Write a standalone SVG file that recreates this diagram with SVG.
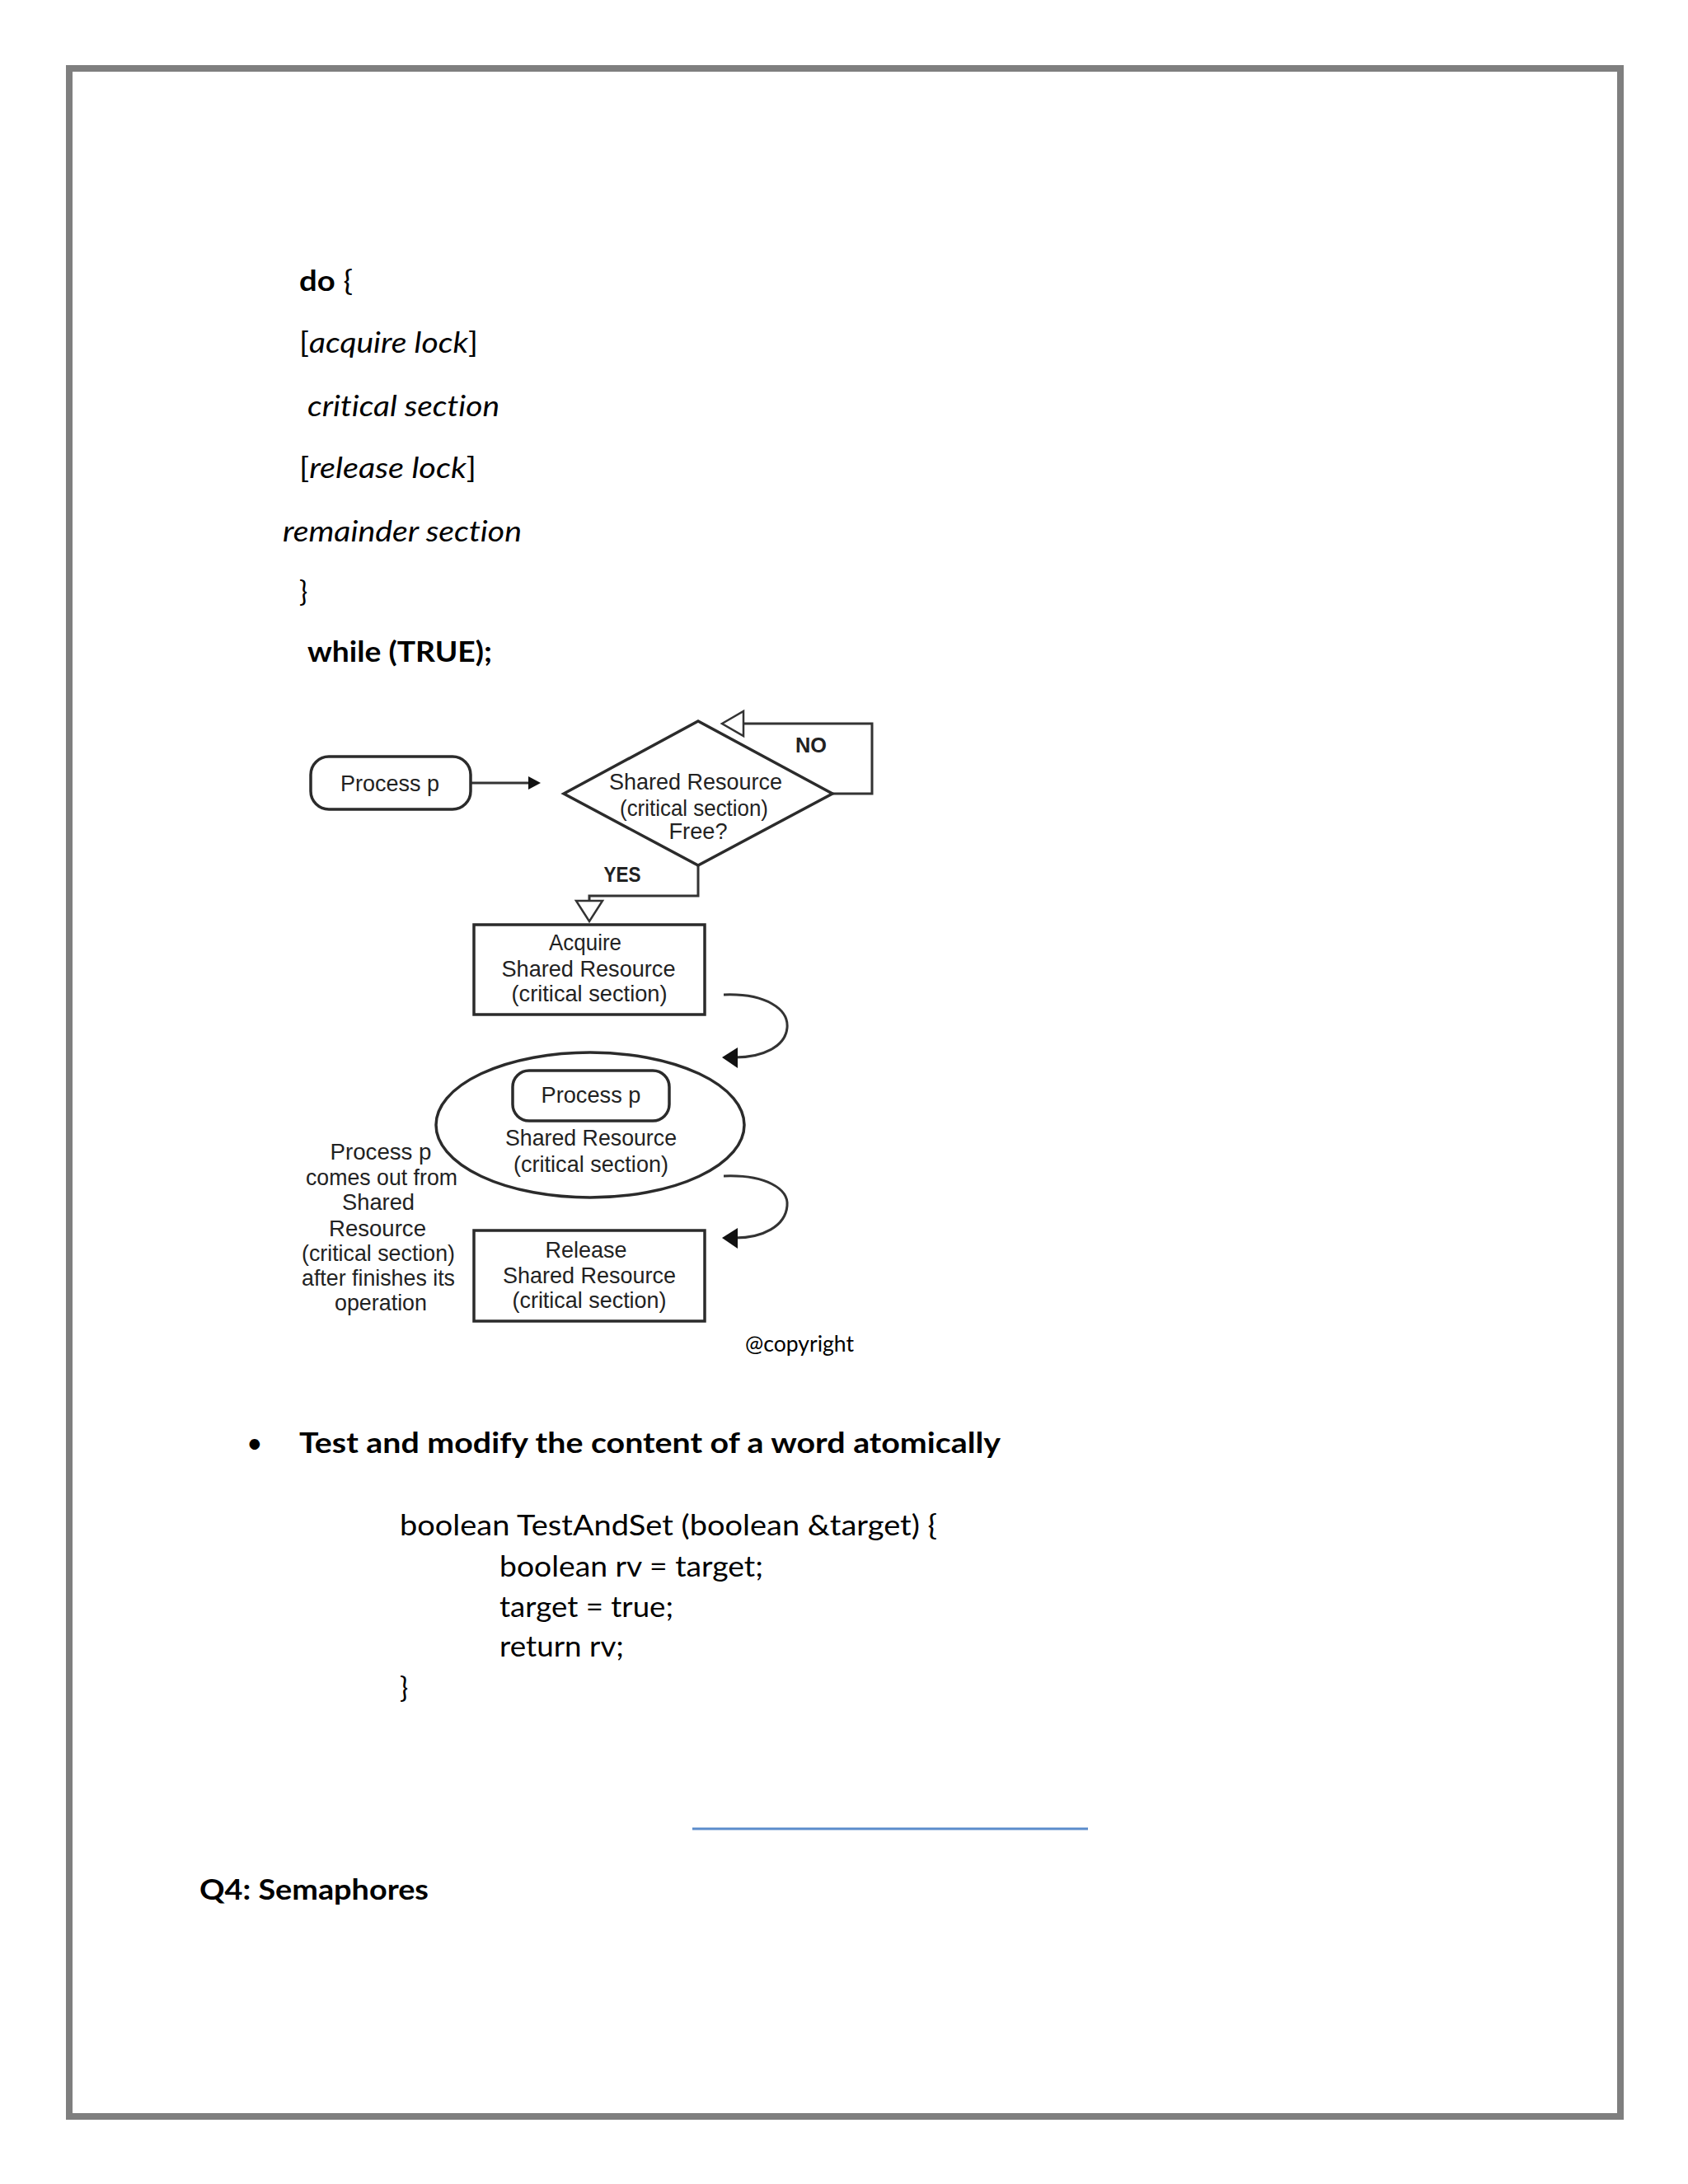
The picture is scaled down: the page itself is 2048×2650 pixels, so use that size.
<svg xmlns="http://www.w3.org/2000/svg" width="2048" height="2650" viewBox="0 0 2048 2650">
<style>
text{font-variant-ligatures:none}
.doc{font-family:Lato,"Open Sans","Liberation Sans",sans-serif;font-size:34px;fill:#000}
.b{font-weight:bold}
.i{font-style:italic}
.fc{font-family:"Liberation Sans",Arial,sans-serif;font-size:28px;fill:#222;text-anchor:middle}
.fcb{font-family:"Liberation Sans",Arial,sans-serif;font-size:25px;font-weight:bold;fill:#222;text-anchor:middle}
.shape{fill:#fff;stroke:#2b2b2b;stroke-width:3.5}
.line{fill:none;stroke:#333;stroke-width:3}
.hollow{fill:#fff;stroke:#333;stroke-width:2.5}
.solid{fill:#111;stroke:none}
</style>
<rect width="2048" height="2650" fill="#fff"/>
<rect id="frame" x="84" y="83" width="1882" height="2485" fill="none" stroke="#7f7f7f" stroke-width="8"/>

<g id="code-loop">
<text class="doc" x="363" y="353" textLength="65" lengthAdjust="spacingAndGlyphs"><tspan class="b">do</tspan> {</text>
<text class="doc" x="363" y="428" textLength="217" lengthAdjust="spacingAndGlyphs">[<tspan class="i">acquire lock</tspan>]</text>
<text class="doc i" x="373" y="505" textLength="233" lengthAdjust="spacingAndGlyphs">critical section</text>
<text class="doc" x="363" y="580" textLength="215" lengthAdjust="spacingAndGlyphs">[<tspan class="i">release lock</tspan>]</text>
<text class="doc i" x="343" y="657" textLength="290" lengthAdjust="spacingAndGlyphs">remainder section</text>
<text class="doc" x="363" y="730">}</text>
<text class="doc b" x="373" y="803" textLength="224" lengthAdjust="spacingAndGlyphs">while (TRUE);</text>
</g>

<g id="connectors">
<line class="line" x1="571" y1="950" x2="643" y2="950"/>
<polygon class="solid" points="656,950 641,942 641,958"/>
<polyline class="line" points="1010,963 1058,963 1058,878 902,878"/>
<polygon class="hollow" points="876,878 902,863 902,893"/>
<polyline class="line" points="847,1050 847,1087 715,1087 715,1093"/>
<polygon class="hollow" points="699,1093 731,1093 715,1118"/>
<path class="line" d="M878,1207 C930,1205 957,1225 955,1247 C953,1270 925,1283 892,1283"/>
<polygon class="solid" points="876,1283 895,1271 895,1296"/>
<path class="line" d="M878,1427 C930,1425 957,1443 955,1463 C953,1488 925,1502 892,1502"/>
<polygon class="solid" points="876,1502 895,1490 895,1515"/>
</g>

<g id="node-process-p">
<rect class="shape" x="377" y="918" width="194" height="64" rx="22"/>
<text class="fc" x="473" y="960" textLength="120" lengthAdjust="spacingAndGlyphs">Process p</text>
</g>

<g id="node-decision">
<polygon class="shape" points="684,963 847,875 1010,963 847,1050"/>
<text class="fc" x="844" y="958" textLength="210" lengthAdjust="spacingAndGlyphs">Shared Resource</text>
<text class="fc" x="842" y="990" textLength="180" lengthAdjust="spacingAndGlyphs">(critical section)</text>
<text class="fc" x="847" y="1018" textLength="71" lengthAdjust="spacingAndGlyphs">Free?</text>
</g>

<g id="label-no"><text class="fcb" x="984" y="913" textLength="38" lengthAdjust="spacingAndGlyphs">NO</text></g>
<g id="label-yes"><text class="fcb" x="755" y="1070" textLength="45" lengthAdjust="spacingAndGlyphs">YES</text></g>

<g id="node-acquire">
<rect class="shape" x="575" y="1122" width="280" height="109"/>
<text class="fc" x="710" y="1153" textLength="88" lengthAdjust="spacingAndGlyphs">Acquire</text>
<text class="fc" x="714" y="1185" textLength="211" lengthAdjust="spacingAndGlyphs">Shared Resource</text>
<text class="fc" x="715" y="1215" textLength="189" lengthAdjust="spacingAndGlyphs">(critical section)</text>
</g>

<g id="node-shared-resource">
<ellipse class="shape" cx="716" cy="1365" rx="187" ry="88"/>
<rect class="shape" x="622" y="1299" width="190" height="61" rx="20"/>
<text class="fc" x="717" y="1338" textLength="121" lengthAdjust="spacingAndGlyphs">Process p</text>
<text class="fc" x="717" y="1390" textLength="208" lengthAdjust="spacingAndGlyphs">Shared Resource</text>
<text class="fc" x="717" y="1422" textLength="188" lengthAdjust="spacingAndGlyphs">(critical section)</text>
</g>

<g id="node-release">
<rect class="shape" x="575" y="1493" width="280" height="110"/>
<text class="fc" x="711" y="1526" textLength="99" lengthAdjust="spacingAndGlyphs">Release</text>
<text class="fc" x="715" y="1557" textLength="210" lengthAdjust="spacingAndGlyphs">Shared Resource</text>
<text class="fc" x="715" y="1587" textLength="187" lengthAdjust="spacingAndGlyphs">(critical section)</text>
</g>

<g id="annotation">
<text class="fc" x="462" y="1407" textLength="123" lengthAdjust="spacingAndGlyphs">Process p</text>
<text class="fc" x="463" y="1438" textLength="184" lengthAdjust="spacingAndGlyphs">comes out from</text>
<text class="fc" x="459" y="1468" textLength="88" lengthAdjust="spacingAndGlyphs">Shared</text>
<text class="fc" x="458" y="1500" textLength="118" lengthAdjust="spacingAndGlyphs">Resource</text>
<text class="fc" x="459" y="1530" textLength="186" lengthAdjust="spacingAndGlyphs">(critical section)</text>
<text class="fc" x="459" y="1560" textLength="186" lengthAdjust="spacingAndGlyphs">after finishes its</text>
<text class="fc" x="462" y="1590" textLength="112" lengthAdjust="spacingAndGlyphs">operation</text>
</g>

<g id="copyright">
<text class="doc" x="904" y="1640" style="font-size:26px" textLength="132" lengthAdjust="spacingAndGlyphs">@copyright</text>
</g>

<g id="test-and-set">
<text class="doc" x="299" y="1763">•</text>
<text class="doc b" x="363" y="1763" textLength="851" lengthAdjust="spacingAndGlyphs">Test and modify the content of a word atomically</text>
<text class="doc" x="485" y="1863" textLength="652" lengthAdjust="spacingAndGlyphs">boolean TestAndSet (boolean &amp;target) {</text>
<text class="doc" x="606" y="1913" textLength="320" lengthAdjust="spacingAndGlyphs">boolean rv = target;</text>
<text class="doc" x="606" y="1962" textLength="211" lengthAdjust="spacingAndGlyphs">target = true;</text>
<text class="doc" x="606" y="2010" textLength="151" lengthAdjust="spacingAndGlyphs">return rv;</text>
<text class="doc" x="485" y="2060">}</text>
</g>

<line id="separator" x1="840" y1="2219" x2="1320" y2="2219" stroke="#5b8ccb" stroke-width="3"/>

<g id="q4">
<text class="doc b" x="242" y="2305" textLength="278" lengthAdjust="spacingAndGlyphs">Q4: Semaphores</text>
</g>
</svg>
